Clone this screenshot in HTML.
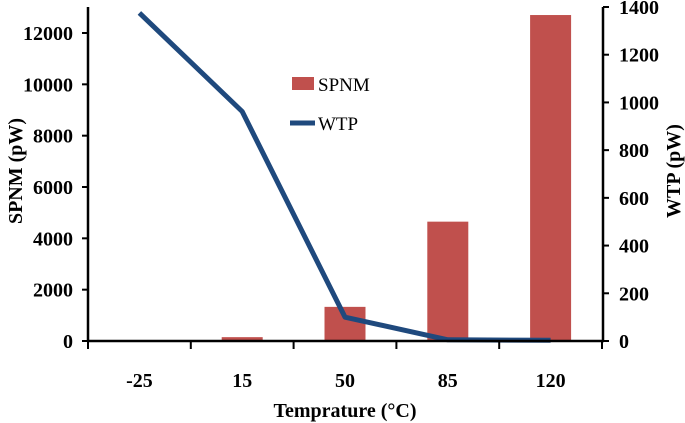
<!DOCTYPE html>
<html><head><meta charset="utf-8"><style>
body{margin:0;background:#fff;}
svg{display:block;font-family:"Liberation Serif",serif;font-weight:bold;}
</style></head><body>
<svg id="chart" width="685" height="423" xmlns="http://www.w3.org/2000/svg"></svg>
<script>
const categories=["-25","15","50","85","120"];
const spnmValues=[0,150,1330,4650,12700];
const wtpValues=[1375,962,100,5,3];
const leftTicks=[0,2000,4000,6000,8000,10000,12000];
const rightTicks=[0,200,400,600,800,1000,1200,1400];

const NS="http://www.w3.org/2000/svg";
const svg=document.getElementById('chart');
const X0=88,X1=602,Y0=341;
const step=(X1-X0)/categories.length;
const xc=i=>X0+step*(i+0.5);
const yL=v=>Y0-v*308/12000;
const yR=v=>Y0-v*(Y0-7)/1400;
function mk(t,a,txt){const e=document.createElementNS(NS,t);for(const k in a)e.setAttribute(k,a[k]);if(txt!=null)e.textContent=txt;svg.appendChild(e);return e;}

spnmValues.forEach((v,i)=>{
 const b=mk('rect',{x:xc(i)-20.5,y:yL(v),width:41,height:Y0-yL(v),fill:'#c0504d'});
 
 
});
const pts=wtpValues.map((v,i)=>xc(i)+','+yR(v)).join(' ');
const ln=mk('polyline',{points:pts,fill:'none',stroke:'#1f497d','stroke-width':5,'stroke-linejoin':'round'});



let a=mk('line',{x1:X0,y1:7,x2:X0,y2:Y0,stroke:'#000','stroke-width':2.5});

a=mk('line',{x1:X1+1,y1:7,x2:X1+1,y2:Y0,stroke:'#000','stroke-width':2.5});

a=mk('line',{x1:X0-1,y1:Y0,x2:X1+2,y2:Y0,stroke:'#000','stroke-width':2.5});


leftTicks.forEach(v=>{
 mk('line',{x1:X0-6,y1:yL(v),x2:X0,y2:yL(v),stroke:'#000','stroke-width':2});
 const t=mk('text',{x:X0-15,y:yL(v)+7,'text-anchor':'end','font-size':20},v);
 
});
rightTicks.forEach(v=>{
 mk('line',{x1:X1+1,y1:yR(v),x2:X1+7,y2:yR(v),stroke:'#000','stroke-width':2});
 const t=mk('text',{x:X1+17,y:yR(v)+7,'font-size':20},v);
 
});
for(let i=0;i<=categories.length;i++){
 mk('line',{x1:X0+step*i,y1:Y0,x2:X0+step*i,y2:Y0+8,stroke:'#000','stroke-width':2});
}
categories.forEach((c,i)=>{
 const t=mk('text',{x:xc(i),y:387,'text-anchor':'middle','font-size':20},c);
 
});
let t=mk('text',{x:345,y:417,'text-anchor':'middle','font-size':20},'Temprature (°C)');

t=mk('text',{x:0,y:0,'text-anchor':'middle','font-size':20,transform:'translate(22,171) rotate(-90)'},'SPNM (pW)');

t=mk('text',{x:0,y:0,'text-anchor':'middle','font-size':20,transform:'translate(680,171) rotate(-90)'},'WTP (pW)');


let r=mk('rect',{x:292,y:77,width:22,height:13,fill:'#c0504d'});

t=mk('text',{x:318,y:91,'font-size':19,'font-weight':'normal'},'SPNM');

r=mk('line',{x1:290,y1:123,x2:315,y2:123,stroke:'#1f497d','stroke-width':5});

t=mk('text',{x:318,y:130,'font-size':19,'font-weight':'normal'},'WTP');

</script>
</body></html>
